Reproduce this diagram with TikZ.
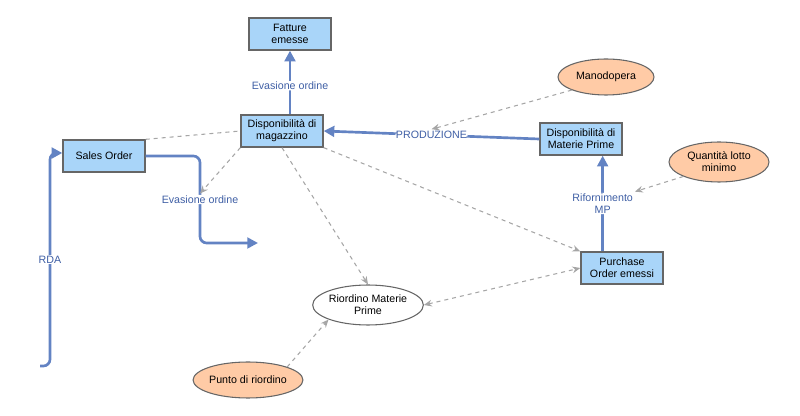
\documentclass[tikz,border=0pt]{standalone}
\usepackage{fontspec}
\setmainfont{Liberation Sans}
\usetikzlibrary{shapes.geometric,arrows.meta}
\definecolor{bl}{HTML}{6383C3}
\definecolor{bfill}{HTML}{A9D5F9}
\definecolor{ofill}{HTML}{FFCBA6}
\definecolor{lbl}{HTML}{3F5FA5}
\begin{document}
\begin{tikzpicture}[x=0.75pt,y=-0.75pt,font=\fontsize{8}{9}\selectfont,
 box/.style={draw=black!60,line width=1pt,fill=bfill,minimum width=61.5pt,minimum height=24pt,inner sep=1pt,align=center},
 ell/.style={ellipse,draw=black!60,line width=0.8pt,fill=ofill,minimum width=72pt,minimum height=27pt,inner sep=0pt,align=center},
 flow/.style={draw=bl,line width=2pt,-{Triangle[length=8pt,width=8pt]},rounded corners=5pt},
 dep/.style={draw=black!35,dashed,line width=0.8pt,-{Stealth[length=6pt,width=5pt]}},
 lab/.style={text=lbl,fill=white,inner sep=0.5pt,align=center}]
\useasboundingbox (0,0) rectangle (800,416);
\node[box] (F) at (290,34) {Fatture\\emesse};
\node[box] (D) at (282,131) {Disponibilità di\\magazzino};
\node[box] (S) at (104,156) {Sales Order};
\node[box] (M) at (581,139) {Disponibilità di\\Materie Prime};
\node[box] (P) at (622,268) {Purchase\\Order emessi};
\node[ell] (Ma) at (606,77) {Manodopera};
\node[ell,minimum width=75pt,minimum height=30pt] (Q) at (719,162) {Quantità lotto\\minimo};
\node[ell,fill=white,minimum width=72pt,minimum height=30pt] (R) at (368,305) {Riordino Materie\\Prime};
\node[ell] (Pr) at (248,380) {Punto di riordino};
\coordinate (E) at (258,243);
\coordinate (A) at (40,366);
% dashed
\draw[dep,-] (S.north east) -- (D.west);
\draw[dep] (D.south) -- (R.north);
\draw[dep] (D.south east) -- (P.north west);
\draw[dep] (Pr.north east) -- (R.south west);
\draw[dep,{Stealth[length=6pt,width=5pt]}-{Stealth[length=6pt,width=5pt]}] (R.east) -- (P.west);
% flows
\draw[flow] (D.north -| F) -- node[lab,pos=0.45] (l1) {Evasione ordine} (F.south);
\draw[flow] (M.west) -- node[lab] (l2) {PRODUZIONE} (D.east);
\draw[flow] (P.north -| M.south east) ++(-20,0) coordinate (pt) -- node[lab] (l3) {Rifornimento\\MP} (pt |- M.south);
\draw[flow] (S.east) -- (200,156) -- node[lab] (l4) {Evasione ordine} (200,243) -- (E);
\draw[flow] (A) -- (50,366) -- node[lab] {RDA} (50,153) -- (S.west |- 0,153);
\draw[dep] (Ma.south west) -- (l2.north);
\draw[dep] (Q.south west) -- (l3.north east);
\draw[dep] (D.south west) -- (l4.north);
\end{tikzpicture}
\end{document}
